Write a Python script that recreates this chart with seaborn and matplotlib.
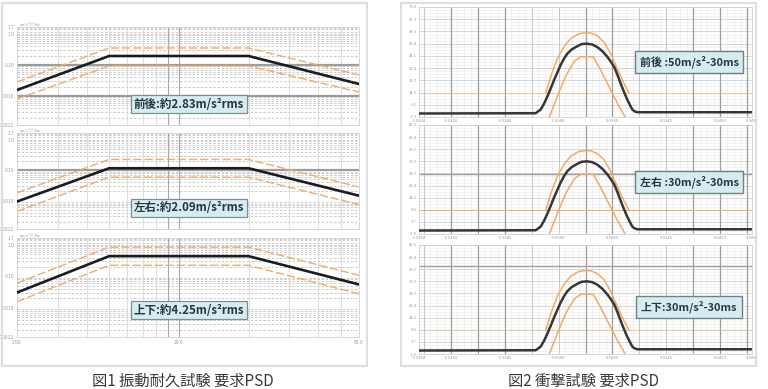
import numpy as np
import pandas as pd
import matplotlib
matplotlib.use("Agg")
import matplotlib.pyplot as plt
import seaborn as sns
from matplotlib.patches import Rectangle
from matplotlib.ticker import FixedLocator, NullLocator

sns.set_theme(style="white")
plt.rcParams['font.family'] = ['Noto Sans CJK JP', 'DejaVu Sans']

W, H = 768, 389

# ---------------- data: vibration PSD (left) ----------------
freq_hz = [2, 5, 20, 60]
psd_nominal = [[0.0156, 0.195, 0.195, 0.0244],
               [0.0093, 0.116, 0.116, 0.0145],
               [0.0305, 0.442, 0.442, 0.0552]]
psd_upper = [[0.0283, 0.353, 0.353, 0.0476],
             [0.018, 0.226, 0.226, 0.028],
             [0.061, 0.86, 0.86, 0.108]]
psd_lower = [[0.0080, 0.093, 0.093, 0.0135],
             [0.0044, 0.059, 0.059, 0.0074],
             [0.0156, 0.226, 0.226, 0.0276]]
psd_labels = ["前後:約2.83m/s²rms", "左右:約2.09m/s²rms", "上下:約4.25m/s²rms"]
psd_xtick_labels = ["2.00", "10.0", "60.0"]

# ---------------- data: shock pulse (right) ----------------
shock_t_ms = [-49.4, -14.8, -13.3, -12.3, -11.3, -10.3, -9.3, -8.3, -7.4, -6.4,
              -5.4, -4.2, -2.9, -1.2, 0.5, 2.0, 3.5, 5.0, 6.5, 7.5, 8.5, 9.5,
              10.4, 11.4, 12.4, 13.2, 13.9, 14.6, 15.4, 49.4]
shock_frac = [0.0, 0.004, 0.056, 0.14, 0.244, 0.36, 0.48, 0.59, 0.69, 0.78,
              0.854, 0.91, 0.948, 0.99, 0.996, 0.985, 0.948, 0.89, 0.808, 0.74,
              0.666, 0.55, 0.432, 0.31, 0.198, 0.12, 0.056, 0.03, 0.018, 0.018]
upper_t_ms = [-11.8, -10.3, -8.4, -6.4, -4.4, -1.9, -0.4, 1.5, 3.5, 5.5, 7.5,
              9.4, 11.4, 12.9]
upper_frac = [0.29, 0.53, 0.78, 0.95, 1.07, 1.14, 1.15, 1.15, 1.11, 1.02, 0.85,
              0.64, 0.43, 0.29]
lower_t_ms = [-10.8, -8.4, -5.9, -3.4, -1.4, 2.3, 4.5, 7.0, 9.4, 11.9]
lower_frac = [-0.06, 0.24, 0.53, 0.74, 0.81, 0.81, 0.62, 0.38, 0.15, -0.06]
band_out_upper = 0.29
band_out_lower = -0.06
shock_peaks = [50, 30, 30]
shock_labels = ["前後 :50m/s²-30ms", "左右 :30m/s²-30ms", "上下:30m/s²-30ms"]
shock_xtick_ms = [-49.4, -40, -24, -8, 8, 24, 40, 49.4]

captions = ["図1 振動耐久試験 要求PSD", "図2 衝撃試験 要求PSD"]

ORANGE = '#f4aa62'
BLACK = '#1c1c1c'
TICKC = '#9a9a9a'


def px_rect(x0, y0, x1, y1):
    return [x0 / W, 1 - y1 / H, (x1 - x0) / W, (y1 - y0) / H]


fig = plt.figure(figsize=(W / 100, H / 100), dpi=100)
fig.patch.set_facecolor('white')

# frames
for (x0, y0, x1, y1) in [(2, 3, 367, 366), (401, 3, 756, 366)]:
    fig.patches.append(Rectangle((x0 / W, 1 - y1 / H), (x1 - x0) / W, (y1 - y0) / H,
                                 transform=fig.transFigure, fill=False,
                                 ec='#dedede', lw=1.6, zorder=0))

# ---------------- left panels ----------------
left_rows = [(27, 125), (133, 229), (238, 337)]
dark_h = [[0.1, 0.01], [0.1], []]
ymin_l, ymax_l = 0.00116, 1.68
yminor = [v * d for d in (0.001, 0.01, 0.1) for v in range(2, 10)] + [1.0, 1.2, 1.4, 1.6]
xminor = [3, 4, 5, 6, 7, 8, 9, 20, 30, 40, 50]
for i, (t, b) in enumerate(left_rows):
    ax = fig.add_axes(px_rect(17, t, 359, b))
    ax.set_xscale('log')
    ax.set_yscale('log')
    for yv in yminor:
        if ymin_l < yv < ymax_l:
            ax.axhline(yv, color='#c4c4c4', lw=0.6, ls=(0, (3, 2)), zorder=0.5)
    for xv in xminor:
        ax.axvline(xv, color='#d8d8d8', lw=0.6, zorder=0.5)
    ax.axvline(9, color='#a8a8a8', lw=0.8, zorder=0.6)
    ax.axvline(10, color='#a8a8a8', lw=0.8, zorder=0.6)
    for yv in dark_h[i]:
        ax.axhline(yv, color='#9c9c9c', lw=1.6, zorder=0.7)
    sns.lineplot(x=freq_hz, y=psd_upper[i], ax=ax, color=ORANGE, lw=1.0,
                 linestyle=(0, (6, 2)), zorder=2)
    sns.lineplot(x=freq_hz, y=psd_lower[i], ax=ax, color=ORANGE, lw=1.0,
                 linestyle=(0, (6, 2)), zorder=2)
    sns.lineplot(x=freq_hz, y=psd_nominal[i], ax=ax, color=BLACK, lw=1.9, zorder=3)
    ax.set_xlim(2, 60)
    ax.set_ylim(ymin_l, ymax_l)
    ax.yaxis.set_major_locator(FixedLocator([ymin_l, 0.01, 0.1, 1.0, ymax_l]))
    ax.yaxis.set_minor_locator(NullLocator())
    ax.set_yticklabels(["0.0012", "0.010", "0.10", "1.0", "1.7"])
    ax.xaxis.set_major_locator(FixedLocator([2, 10, 60]))
    ax.xaxis.set_minor_locator(NullLocator())
    if i == 2:
        ax.set_xticklabels(psd_xtick_labels)
    else:
        ax.set_xticklabels([])
    ax.tick_params(labelsize=3.5, colors=TICKC, length=0, pad=2)
    for sp in ax.spines.values():
        sp.set_color('#d0d0d0')
        sp.set_linewidth(0.6)
    ax.set_xlabel('')
    ax.set_ylabel('')
    fig.text(20 / W, 1 - (t - 3) / H, "(m/s²)²/Hz", fontsize=3, color=TICKC,
             ha='left', va='center')

label_centers_left = [(189, 104), (189, 208), (189, 310)]
for (cx, cy), s in zip(label_centers_left, psd_labels):
    fig.text(cx / W, 1 - cy / H, s, ha='center', va='center', fontsize=8.3,
             fontweight='bold', color='#26363c',
             bbox=dict(boxstyle='square,pad=0.26', fc='#d5edf2', ec='#7e8f93', lw=0.9),
             zorder=10)

# ---------------- right panels ----------------
right_rows = [(7, 117), (125, 234), (245, 354)]
dark_h_frac = [[], [0.82], [1.22]]
band_alpha = [0.35, 0.9, 0.35]
for i, (t, b) in enumerate(right_rows):
    A = shock_peaks[i]
    ax = fig.add_axes(px_rect(419, t, 752, b))
    y0, y1 = -0.05 * A, 1.52 * A
    ticks_y = np.linspace(y0, y1, 10)
    minor_y = np.linspace(y0, y1, 37)
    for yv in minor_y:
        ax.axhline(yv, color='#ececec', lw=0.4, zorder=0.4)
    for yv in ticks_y:
        ax.axhline(yv, color='#d2d2d2', lw=0.6, zorder=0.5)
    for xv in np.arange(-48, 49, 2):
        ax.axvline(xv, color='#e6e6e6', lw=0.4, zorder=0.4)
    for xv in np.arange(-48, 49, 8):
        ax.axvline(xv, color='#c6c6c6', lw=0.7, zorder=0.5)
    for xv in [-40, -32, -24, 0, 8, 32, 40, 48]:
        ax.axvline(xv, color='#9e9e9e', lw=0.9, zorder=0.6)
    for fv in dark_h_frac[i]:
        ax.axhline(fv * A, color='#9e9e9e', lw=1.0, zorder=0.6)
    ax.axhline(band_out_upper * A, color=ORANGE, lw=0.8, alpha=band_alpha[i], zorder=1)
    ax.axhline(band_out_lower * A, color=ORANGE, lw=0.9, alpha=band_alpha[i], zorder=1)
    sns.lineplot(x=upper_t_ms, y=[f * A for f in upper_frac], ax=ax, color=ORANGE,
                 lw=1.1, sort=False, estimator=None, zorder=2)
    sns.lineplot(x=lower_t_ms, y=[f * A for f in lower_frac], ax=ax, color=ORANGE,
                 lw=1.1, sort=False, estimator=None, zorder=2)
    sns.lineplot(x=shock_t_ms, y=[f * A for f in shock_frac], ax=ax, color='#363636',
                 lw=1.8, sort=False, estimator=None, zorder=3)
    ax.set_xlim(-49.4, 49.4)
    ax.set_ylim(y0, y1)
    ax.yaxis.set_major_locator(FixedLocator(ticks_y))
    ax.set_yticklabels([f"{v:.1f}" for v in ticks_y])
    ax.xaxis.set_major_locator(FixedLocator(shock_xtick_ms))
    ax.set_xticklabels([f"{v / 1000:.4f}" for v in shock_xtick_ms])
    ax.tick_params(labelsize=3, colors=TICKC, length=0, pad=1.5)
    for sp in ax.spines.values():
        sp.set_color('#d0d0d0')
        sp.set_linewidth(0.6)
    ax.set_xlabel('')
    ax.set_ylabel('')

label_centers_right = [(689, 62), (689, 182), (689, 307)]
for (cx, cy), s in zip(label_centers_right, shock_labels):
    fig.text(cx / W, 1 - cy / H, s, ha='center', va='center', fontsize=7.9,
             fontweight='bold', color='#26363c',
             bbox=dict(boxstyle='square,pad=0.4', fc='#d5edf2', ec='#6f8084', lw=1.0),
             zorder=10)

# captions
fig.text(183 / W, 1 - 381 / H, captions[0], ha='center', va='center', fontsize=11,
         color='#3a3a3a')
fig.text(584 / W, 1 - 381 / H, captions[1], ha='center', va='center', fontsize=11,
         color='#3a3a3a')

fig.savefig('out.png', dpi=100, facecolor='white')
